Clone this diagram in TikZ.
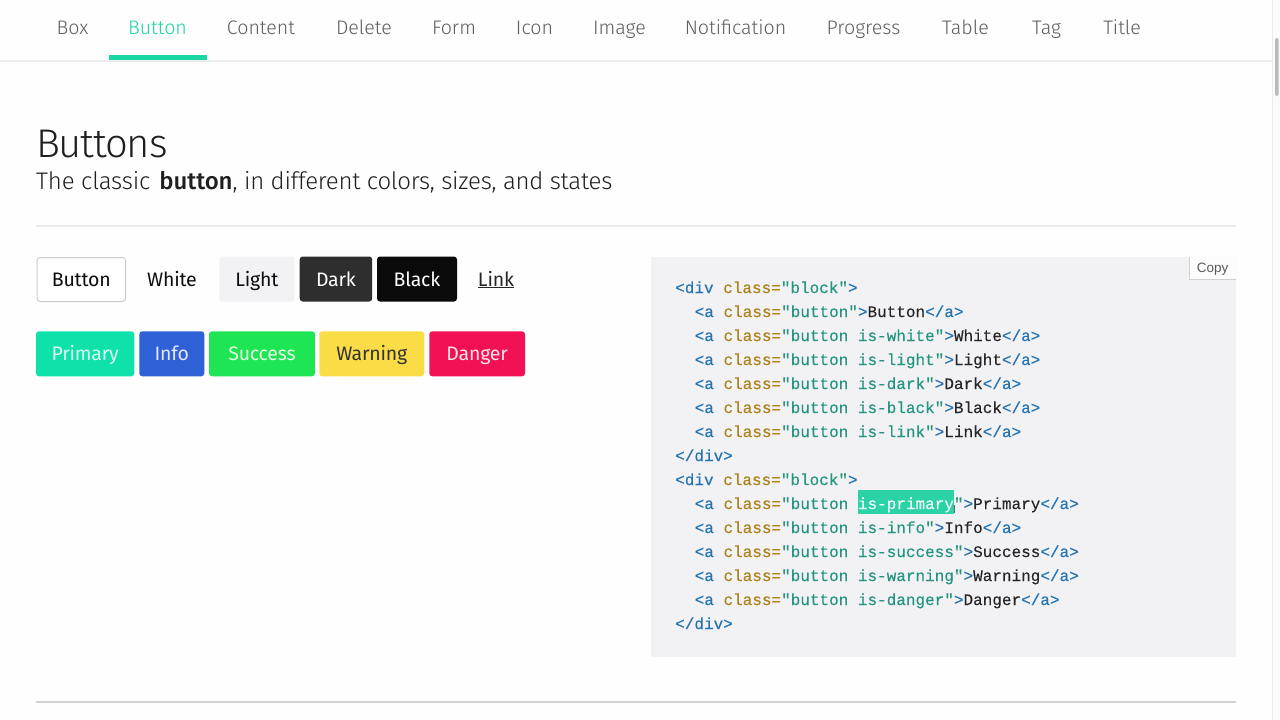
\documentclass[tikz,border=0pt]{standalone}
\usepackage{fontspec}
\setmainfont{Liberation Sans}
\newfontfamily\lightf{Fira Sans Light}
\newfontfamily\headf[LetterSpace=-3]{Fira Sans Light}
\newfontfamily\subf[LetterSpace=-0.7]{Fira Sans Light}
\newfontfamily\subg[LetterSpace=-1.1]{Fira Sans Light}
\newfontfamily\boldf[LetterSpace=-0.4]{Fira Sans Medium}
\newfontfamily\btnf[LetterSpace=-1]{Fira Sans}
\setmonofont[FakeBold=0.25]{Liberation Mono}
\definecolor{teal1}{HTML}{1BD6A5}
\definecolor{navgr}{HTML}{5E5E5E}
\definecolor{rulegr}{HTML}{EBEAED}
\definecolor{codebg}{HTML}{F2F1F4}
\definecolor{cblue}{HTML}{2474B2}
\definecolor{cgold}{HTML}{AD8318}
\definecolor{cgreen}{HTML}{23967F}
\definecolor{ctext}{HTML}{262626}
\newcommand{\B}[1]{\textcolor{cblue}{#1}}
\newcommand{\Au}[1]{\textcolor{cgold}{#1}}
\newcommand{\Gr}[1]{\textcolor{cgreen}{#1}}
\newcommand{\codeA}[2]{\B{<a} \Au{class=}\Gr{"#1"}\B{>}\textcolor{ctext}{#2}\B{</a>}}
\tikzset{
 x=1pt,y=-1pt,
 nav/.style={font=\lightf\fontsize{19.6}{22}\selectfont,text=navgr,anchor=base,inner sep=0},
 btn/.style={rounded corners=3pt,inner sep=0,outer sep=0,font=\btnf\fontsize{19.5}{22}\selectfont,align=center,minimum height=45pt,anchor=north west,text height=18pt,text depth=4pt},
 code/.style={font=\ttfamily\fontsize{16}{16}\selectfont,anchor=base west,inner sep=0},
 rulel/.style={draw=rulegr,line width=1.2pt},
}
\begin{document}
\begin{tikzpicture}
\useasboundingbox (0,0) rectangle (1280,720);
\fill[fill=white!99!gray] (0,0) rectangle (1280,720);
% scrollbar
\fill[fill=white!97!gray] (1272.5,0) rectangle (1280,720);
\draw[draw=rulegr,line width=.6pt] (1272.5,0) -- (1272.5,720);
\fill[fill=gray!55,rounded corners=1.5pt] (1275,38) rectangle (1278.5,96);
% nav
\draw[rulel,line width=2pt] (0,60.5) -- (1272,60.5);
\fill[fill=teal1] (109,55) rectangle (207,60);
\node[nav] (n1) at (72.5,34.5) {Box};
\node[nav,text=teal1] (n2) at (157.5,34.5) {Button};
\node[nav] (n3) at (261,34.5) {Content};
\node[nav] (n4) at (364,34.5) {Delete};
\node[nav] (n5) at (454,34.5) {Form};
\node[nav] (n6) at (534.5,34.5) {Icon};
\node[nav] (n7) at (619.5,34.5) {Image};
\node[nav] (n8) at (735.5,34.5) {Notification};
\node[nav] (n9) at (863.5,34.5) {Progress};
\node[nav] (n10) at (965.5,34.5) {Table};
\node[nav] (n11) at (1046.5,34.5) {Tag};
\node[nav] (n12) at (1122,34.5) {Title};
% heading
\node[anchor=base west,inner sep=0,font=\headf\fontsize{40}{44}\selectfont,text=black!88] (h1) at (36,157) {Buttons};
\node[anchor=base west,inner sep=0,font=\subf\fontsize{24}{28}\selectfont,text=black!88] (h2) at (36,189) {The classic\kern2.5pt{} {\boldf button}{\subg, in different colors, sizes, and states}};
\draw[rulel] (36,226) -- (1236,226);
% buttons row 1
\node[btn,draw=black!20,line width=1pt,fill=white,text=black!95,minimum width=88.5pt,minimum height=44pt] (b1) at (37,257.5) {Button};
\node[btn,text=black!95,minimum width=90pt] (b2) at (127,256.5) {White};
\node[btn,fill=codebg,text=black!95,minimum width=75pt] (b3) at (219.3,256.5) {Light};
\node[btn,fill=black!82,text=white,minimum width=72.5pt] (b4) at (299.7,256.5) {Dark};
\node[btn,fill=black!96,text=white,minimum width=80pt] (b5) at (377,256.5) {Black};
\node[btn,text=black!85,minimum width=74pt] (b6) at (459,256.5) {\underline{Link}};
% buttons row 2
\node[btn,fill={rgb,255:red,14;green,226;blue,170},text=white!85!teal1,minimum width=98.3pt] (c1) at (36,331.3) {Primary};
\node[btn,fill={rgb,255:red,46;green,96;blue,214},text=white!90!blue,minimum width=65pt] (c2) at (139.3,331.3) {Info};
\node[btn,fill={rgb,255:red,30;green,229;blue,84},text=white!90!green,minimum width=106pt] (c3) at (209,331.3) {Success};
\node[btn,fill={rgb,255:red,250;green,221;blue,70},text=black!80,minimum width=105pt] (c4) at (319.3,331.3) {Warning};
\node[btn,fill={rgb,255:red,241;green,17;blue,84},text=white!90!red,minimum width=95.7pt] (c5) at (429.3,331.3) {Danger};
% code panel
\fill[fill=codebg] (651,256.5) rectangle (1236,656.5);
\fill[fill=white!98!gray] (1189.5,256) rectangle (1236.5,279.5);
\draw[draw=black!18,line width=.8pt] (1189.5,257) -- (1189.5,279.5) -- (1236,279.5);
\node[inner sep=0,font=\fontsize{13.5}{15}\selectfont,text=black!65,anchor=base] (copy) at (1212.5,272) {Copy};
\fill[fill={rgb,255:red,43;green,210;blue,165}] (857.5,490) rectangle (953.5,514);
\draw[draw=black!60,line width=.8pt] (954.5,505) -- (954.5,513);
\node[code] (l1) at (675,293) {\B{<div} \Au{class=}\Gr{"block"}\B{>}};
\node[code] (l2) at (694.5,317) {\codeA{button}{Button}};
\node[code] (l3) at (694.5,341) {\codeA{button is-white}{White}};
\node[code] (l4) at (694.5,365) {\codeA{button is-light}{Light}};
\node[code] (l5) at (694.5,389) {\codeA{button is-dark}{Dark}};
\node[code] (l6) at (694.5,413) {\codeA{button is-black}{Black}};
\node[code] (l7) at (694.5,437) {\codeA{button is-link}{Link}};
\node[code] (l8) at (675,461) {\B{</div>}};
\node[code] (l9) at (675,485) {\B{<div} \Au{class=}\Gr{"block"}\B{>}};
\node[code] (l10) at (694.5,509) {\B{<a} \Au{class=}\Gr{"button }\textcolor{white!92!teal1}{is-primary}\Gr{"}\B{>}\textcolor{ctext}{Primary}\B{</a>}};
\node[code] (l11) at (694.5,533) {\codeA{button is-info}{Info}};
\node[code] (l12) at (694.5,557) {\codeA{button is-success}{Success}};
\node[code] (l13) at (694.5,581) {\codeA{button is-warning}{Warning}};
\node[code] (l14) at (694.5,605) {\codeA{button is-danger}{Danger}};
\node[code] (l15) at (675,629) {\B{</div>}};
% bottom rule
\draw[rulel,draw=black!18] (36,702) -- (1236,702);
\end{tikzpicture}
\end{document}
